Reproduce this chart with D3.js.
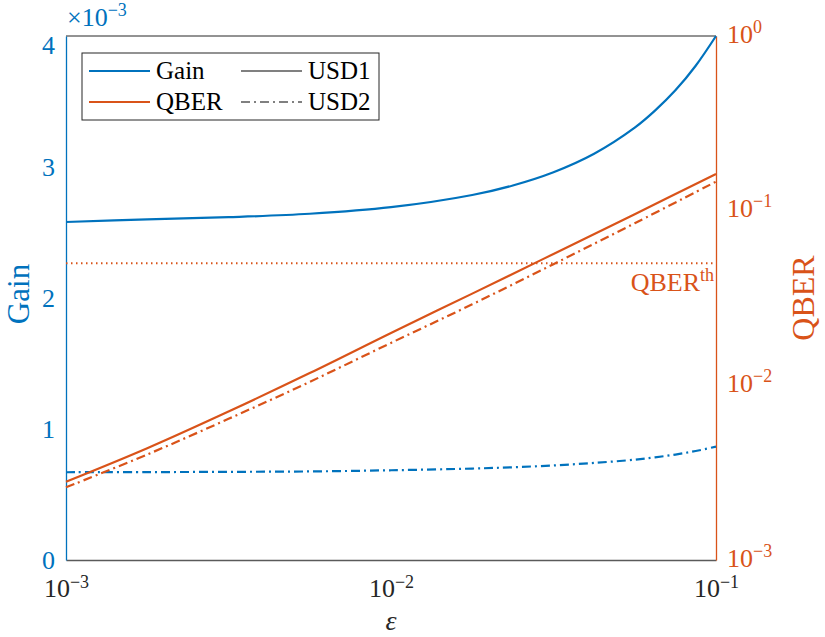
<!DOCTYPE html>
<html>
<head>
<meta charset="utf-8">
<script src="https://cdn.jsdelivr.net/npm/d3@7"></script>
<style>
  body { margin: 0; background: #fff; }
  svg { display: block; }
  text { font-family: "Liberation Serif", "DejaVu Serif", serif; }
</style>
</head>
<body>
<svg id="chart" width="825" height="637"></svg>
<script>
// ---------- data ----------
const epsilon = [0.001, 0.001778, 0.003162, 0.005623, 0.01, 0.01778, 0.02371, 0.03162, 0.04217, 0.05623, 0.0649, 0.075, 0.0866, 0.1];
const gainUSD1 = [2.580e-3, 2.600e-3, 2.617e-3, 2.643e-3, 2.693e-3, 2.786e-3, 2.859e-3, 2.960e-3, 3.101e-3, 3.300e-3, 3.430e-3, 3.585e-3, 3.773e-3, 4.000e-3];
const gainUSD2 = [0.670e-3, 0.671e-3, 0.673e-3, 0.676e-3, 0.685e-3, 0.698e-3, 0.708e-3, 0.722e-3, 0.741e-3, 0.766e-3, 0.784e-3, 0.805e-3, 0.832e-3, 0.865e-3];
const qberEps = [0.001, 0.001778, 0.003162, 0.005623, 0.01, 0.01778, 0.03162, 0.05623, 0.1];
const qberUSD1 = [0.002805, 0.004365, 0.00708, 0.01175, 0.01995, 0.0335, 0.0565, 0.0955, 0.162];
const qberUSD2 = [0.002606, 0.004018, 0.006427, 0.01047, 0.0175, 0.0291, 0.0494, 0.0847, 0.1466];
const qberThreshold = 0.05;
const xTicks = [1e-3, 1e-2, 1e-1];
const gainTicks = [0, 1e-3, 2e-3, 3e-3, 4e-3];
const qberTicks = [1e-3, 1e-2, 1e-1, 1];
const legendItems = [
  {label: "Gain", color: "#0072BD", dash: null},
  {label: "QBER", color: "#D95319", dash: null},
  {label: "USD1", color: "#808080", dash: null},
  {label: "USD2", color: "#808080", dash: "9,4,2,4"}
];

// ---------- layout ----------
const BLUE = "#0072BD", ORANGE = "#D95319", DARK = "#262626";
const FONT = "'Liberation Serif', 'DejaVu Serif', serif";
const m = {left: 66, right: 716, top: 36, bottom: 560};
const svg = d3.select("#chart");

const x = d3.scaleLog().domain([1e-3, 1e-1]).range([m.left, m.right]);
const yL = d3.scaleLinear().domain([0, 4e-3]).range([m.bottom, m.top]);
const yR = d3.scaleLog().domain([1e-3, 1]).range([m.bottom, m.top]);

const supMinus = n => (n < 0 ? "\u2212" + Math.abs(n) : String(n));
const TICK_FS = "26px", SUP_FS = "18px";

// ---------- axes ----------
const gx = svg.append("g").attr("transform", `translate(0,${m.bottom})`)
  .call(d3.axisBottom(x).tickValues(xTicks).tickSize(0).tickFormat(() => ""));
gx.attr("font-family", null);
gx.select(".domain").attr("stroke", "#5a5a5a").attr("stroke-width", 1.3);
gx.selectAll(".tick text").remove();
gx.selectAll(".tick").append("text")
  .attr("y", 37).attr("fill", DARK).attr("text-anchor", "middle")
  .style("font-size", TICK_FS).style("font-family", FONT)
  .each(function(d) {
    const t = d3.select(this);
    t.append("tspan").text("10");
    t.append("tspan").attr("dy", -9).style("font-size", SUP_FS).text(supMinus(Math.round(Math.log10(d))));
  });

svg.append("line").attr("x1", m.left).attr("x2", m.right).attr("y1", m.top).attr("y2", m.top)
  .attr("stroke", DARK).attr("stroke-width", 1);

const gl = svg.append("g").attr("transform", `translate(${m.left},0)`)
  .call(d3.axisLeft(yL).tickValues(gainTicks).tickSize(0).tickPadding(11)
    .tickFormat(d => String(Math.round(d * 1000))));
gl.attr("font-family", null);
gl.select(".domain").attr("stroke", BLUE).attr("stroke-width", 1.3);
gl.selectAll(".tick text").attr("fill", BLUE).style("font-size", TICK_FS)
  .style("font-family", FONT)
  .attr("dy", d => d === 4e-3 ? "0.66em" : "0.32em");

const ex = svg.append("text").attr("x", 67).attr("y", 26).attr("fill", BLUE)
  .style("font-size", TICK_FS).style("font-family", FONT);
ex.append("tspan").text("\u00d710");
ex.append("tspan").attr("dy", -10).style("font-size", SUP_FS).text("\u22123");

const gr = svg.append("g").attr("transform", `translate(${m.right},0)`)
  .call(d3.axisRight(yR).tickValues(qberTicks).tickSize(0).tickFormat(() => ""));
gr.attr("font-family", null);
gr.select(".domain").attr("stroke", ORANGE).attr("stroke-width", 1.3);
gr.selectAll(".tick text").remove();
gr.selectAll(".tick").append("text")
  .attr("x", 11).attr("y", 6).attr("fill", ORANGE)
  .style("font-size", TICK_FS).style("font-family", FONT)
  .each(function(d) {
    const t = d3.select(this);
    t.append("tspan").text("10");
    t.append("tspan").attr("dy", -10).style("font-size", SUP_FS).text(supMinus(Math.round(Math.log10(d))));
  });

svg.append("text").attr("transform", `translate(29,${(m.top + m.bottom) / 2 - 4}) rotate(-90)`)
  .attr("text-anchor", "middle").attr("fill", BLUE).style("font-size", "31px").text("Gain");
svg.append("text").attr("transform", `translate(814,${(m.top + m.bottom) / 2}) rotate(-90)`)
  .attr("text-anchor", "middle").attr("fill", ORANGE).style("font-size", "32px").text("QBER");
svg.append("text").attr("x", (m.left + m.right) / 2).attr("y", 630)
  .attr("text-anchor", "middle").attr("fill", DARK).style("font-size", "28px")
  .style("font-style", "italic").text("\u03b5");

// ---------- curves ----------
const plot = svg.append("g");
const lineGain = d3.line().x((d, i) => x(epsilon[i])).y(d => yL(d)).curve(d3.curveCatmullRom);
const lineQ = d3.line().x((d, i) => x(qberEps[i])).y(d => yR(d)).curve(d3.curveCatmullRom);

plot.append("path").datum(gainUSD1).attr("d", lineGain)
  .attr("fill", "none").attr("stroke", BLUE).attr("stroke-width", 2.2);
plot.append("path").datum(gainUSD2).attr("d", lineGain)
  .attr("fill", "none").attr("stroke", BLUE).attr("stroke-width", 2.2).attr("stroke-dasharray", "9,4,2,4");
plot.append("path").datum(qberUSD1).attr("d", lineQ)
  .attr("fill", "none").attr("stroke", ORANGE).attr("stroke-width", 2.2);
plot.append("path").datum(qberUSD2).attr("d", lineQ)
  .attr("fill", "none").attr("stroke", ORANGE).attr("stroke-width", 2.2).attr("stroke-dasharray", "9,4,2,4");

plot.append("line").attr("x1", m.left).attr("x2", m.right)
  .attr("y1", yR(qberThreshold)).attr("y2", yR(qberThreshold))
  .attr("stroke", ORANGE).attr("stroke-width", 2).attr("stroke-dasharray", "1.5,3.5");
const th = svg.append("text").attr("x", 714).attr("y", yR(qberThreshold) + 28)
  .attr("text-anchor", "end").attr("fill", ORANGE).style("font-size", "26px");
th.append("tspan").text("QBER");
th.append("tspan").attr("dy", -10).style("font-size", SUP_FS).text("th");

// ---------- legend ----------
const lg = svg.append("g");
lg.append("rect").attr("x", 82).attr("y", 53).attr("width", 297).attr("height", 67)
  .attr("fill", "#fff").attr("stroke", DARK).attr("stroke-width", 1);
legendItems.forEach((it, i) => {
  const col = Math.floor(i / 2), row = i % 2;
  const lx = 89 + col * 152, ly = 71 + row * 31;
  lg.append("line").attr("x1", lx).attr("x2", lx + 61).attr("y1", ly).attr("y2", ly)
    .attr("stroke", it.color).attr("stroke-width", 2)
    .attr("stroke-dasharray", it.dash);
  lg.append("text").attr("x", lx + 67).attr("y", ly + 8).attr("fill", "#000")
    .style("font-size", "25px").text(it.label);
});
</script>
</body>
</html>
